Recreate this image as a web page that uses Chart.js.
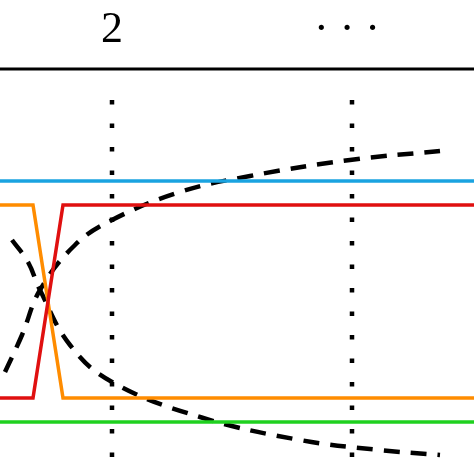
<!DOCTYPE html>
<html>
<head>
<meta charset="utf-8">
<script src="https://cdn.jsdelivr.net/npm/chart.js@4"></script>
<style>
  html, body { margin: 0; padding: 0; background: #fff; }
  #wrap { width: 474px; height: 474px; }
</style>
</head>
<body>
<div id="wrap"><canvas id="c"></canvas></div>
<script>
// column headers along the top
const headerLabels = ['2', '\u00b7 \u00b7 \u00b7'];
const headerX = [112, 347];

// level lines
const topRule = [[0, 69], [474, 69]];
const blueLevel = [[0, 181], [474, 181]];
const greenLevel = [[0, 422], [474, 422]];
const redPath = [[0, 398], [33, 398], [63, 205], [474, 205]];
const orangePath = [[0, 205], [33, 205], [63, 398], [474, 398]];
const dashedUpper = [[5, 372], [22, 335], [40, 290], [75, 245], [112, 220], [180, 192], [250, 176], [350, 160], [440, 151]];
const dashedLower = [[12, 240], [28, 262], [40, 290], [70, 345], [112, 382], [200, 417], [300, 440], [380, 450], [440, 455]];
const dividerX = [112, 352];

const pts = arr => arr.map(p => ({ x: p[0], y: p[1] }));

function line(data, color, width, dash, tension) {
  return {
    data: pts(data), showLine: true, borderColor: color, borderWidth: width,
    borderDash: dash || [], pointRadius: 0, tension: tension || 0, fill: false
  };
}

const datasets = [
  line(topRule, '#000', 3),
  line(blueLevel, '#1aa3e0', 3.5),
  line(greenLevel, '#1fd11f', 3.5),
  line(redPath, '#e01010', 3.5),
  line(orangePath, '#ff8c00', 3.5),
  line(dashedUpper, '#000', 4.5, [16, 11], 0.4),
  line(dashedLower, '#000', 4.5, [16, 11], 0.4)
];
dividerX.forEach(x => datasets.push(line([[x, 100], [x, 474]], '#000', 4.5, [4.5, 19])));

new Chart(document.getElementById('c'), {
  type: 'scatter',
  data: { datasets: datasets },
  options: {
    responsive: true,
    maintainAspectRatio: false,
    animation: false,
    layout: { padding: 0 },
    plugins: { legend: { display: false }, tooltip: { enabled: false } },
    scales: {
      x: { type: 'linear', min: 0, max: 474, display: false },
      y: { type: 'linear', min: 0, max: 474, reverse: true, display: false }
    }
  },
  plugins: [{
    id: 'headers',
    afterDraw: (chart) => {
      const ctx = chart.ctx;
      ctx.save();
      ctx.font = '44px "Liberation Serif", "DejaVu Serif", serif';
      ctx.fillStyle = '#000';
      ctx.textAlign = 'center';
      ctx.textBaseline = 'alphabetic';
      headerLabels.forEach((t, i) => {
        ctx.fillText(t, chart.scales.x.getPixelForValue(headerX[i]), chart.scales.y.getPixelForValue(42));
      });
      ctx.restore();
    }
  }]
});
</script>
</body>
</html>
